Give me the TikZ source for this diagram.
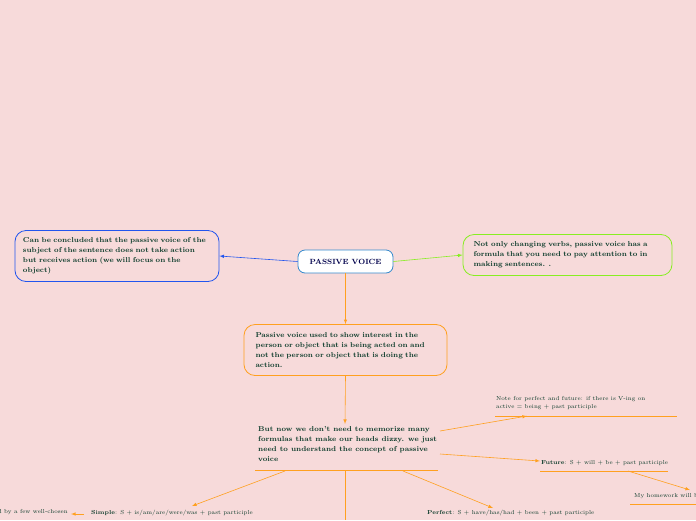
\documentclass[tikz,border=0pt]{standalone}
\usepackage{fontspec}
\definecolor{bg}{HTML}{F7DADA}
\definecolor{tx}{HTML}{0B3B2A}
\definecolor{bl}{HTML}{2255EE}
\definecolor{gr}{HTML}{88EE22}
\definecolor{og}{HTML}{FFA020}
\definecolor{cb}{HTML}{3388CC}
\begin{document}
\begin{tikzpicture}[x=1pt,y=-1pt,
 bx/.style={rounded corners=11pt,line width=0.8pt,align=left,text=tx,font=\fontsize{7.1}{10.2}\selectfont\bfseries,inner xsep=0pt},
 tl/.style={align=left,text=tx,font=\fontsize{5.8}{8.5}\selectfont,anchor=west,inner sep=0pt},
 ar/.style={-latex,line width=0.6pt,og},
 ul/.style={line width=0.9pt,og}]
\fill[bg] (0,0) rectangle (696,520);
\useasboundingbox (0,0) rectangle (696,520);
\node[bx,draw=cb,fill=white,minimum width=95pt,minimum height=23pt,rounded corners=7pt,align=center,font=\fontsize{7.5}{9}\selectfont\bfseries,text=black!70!blue] (pv) at (345.5,261.5) {PASSIVE VOICE};
\node[bx,draw=bl,minimum width=204pt,minimum height=51pt,text width=188pt] (l) at (117,256) {Can be concluded that the passive voice of the\\subject of the sentence does not take action\\but receives action (we will focus on the\\object)};
\node[bx,draw=gr,minimum width=209pt,minimum height=41pt,text width=188pt] (r) at (567.5,255) {Not only changing verbs, passive voice has a\\formula that you need to pay attention to in\\making sentences. .};
\node[bx,draw=og,minimum width=203pt,minimum height=51pt,text width=180pt] (o) at (345.5,350) {Passive voice used to show interest in the\\person or object that is being acted on and\\not the person or object that is doing the\\action.};
\node[align=left,text=tx,font=\fontsize{7.1}{10.2}\selectfont\bfseries,anchor=north west,inner sep=0pt] (b) at (258,426) {But now we don't need to memorize many\\formulas that make our heads dizzy. we just\\need to understand the concept of passive\\voice};
\draw[ul] (255,470)--(438,470);
\coordinate (bl) at (285,471); \coordinate (br) at (403,471); \coordinate (bm) at (345,471);
\node[tl] (n) at (496,403) {Note for perfect and future: if there is V-ing on\\active = being + past participle};
\draw[ul] (495,416)--(677,416);
\node[tl] (f) at (541,463) {\textbf{Future}: S + will + be + past participle};
\draw[ul] (540,471)--(668,471);
\coordinate (fu) at (628,471);
\node[tl] (h) at (634,496) {My homework will be};
\draw[ul] (630,504)--(700,504);
\node[tl] (s) at (91,513) {\textbf{Simple}: S + is/am/are/were/was + past participle};
\node[tl,anchor=east] (c) at (68,512) {d by a few well-chosen};
\node[tl] (p) at (427,513) {\textbf{Perfect}: S + have/has/had + been + past participle};
\draw[-latex,line width=0.6pt,bl] (pv.west)--(l.east);
\draw[-latex,line width=0.6pt,gr] (pv.east)--(r.west);
\draw[ar] (pv.south)--(o.north);
\draw[ar] (o.south)--(345,424);
\draw[ar] (440,431)--(527,416);
\draw[ar] (440,454)--(540,461);
\draw[ar] (fu)--(690,490);
\draw[ar] (bl)--(192,506);
\draw[ar] (br)--(493,508);
\draw[line width=0.6pt,og] (bm)--(345,520);
\draw[ar] (84,514)--(71,514);
\end{tikzpicture}
\end{document}
